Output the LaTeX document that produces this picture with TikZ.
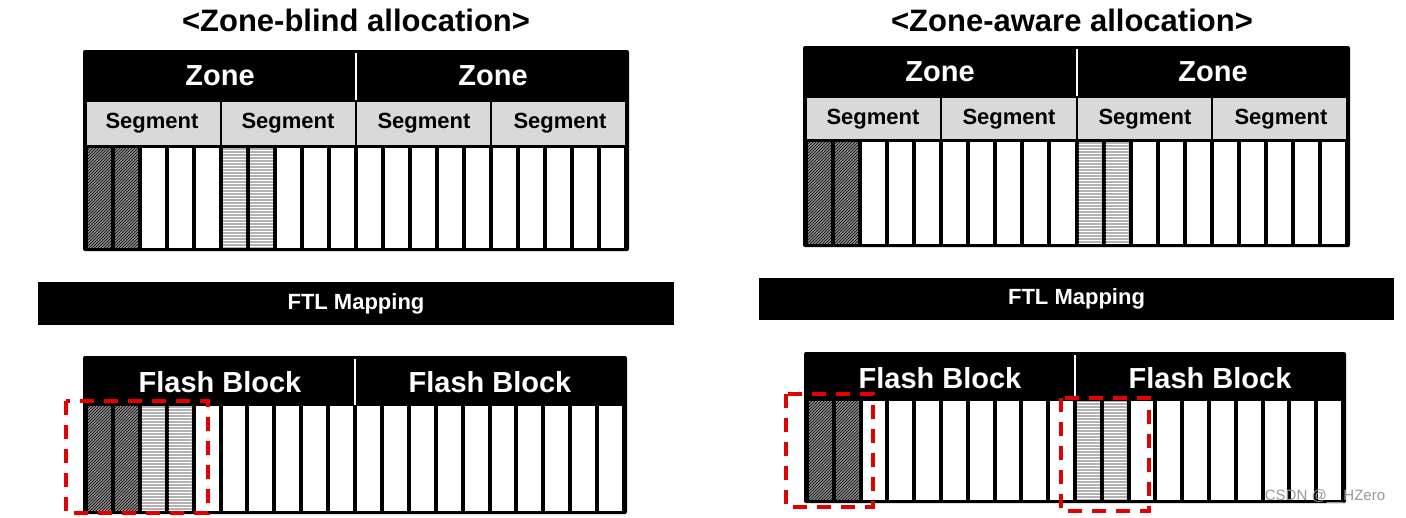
\documentclass[tikz,border=0pt]{standalone}
\usepackage{fontspec}
\setmainfont{Liberation Sans}
\usetikzlibrary{patterns}
\tikzset{
  x=1pt,y=-1pt,
  frame/.style={fill=black,rounded corners=2pt},
  seg/.style={fill=black!15},
  cellw/.style={fill=white},
  hatch/.style={fill=black!45,postaction={pattern=north east lines,pattern color=black}},
  dotc/.style={fill=black!30,postaction={pattern=horizontal lines,pattern color=white}},
  red box/.style={draw=red!90!black,line width=3.5pt,dash pattern=on 14pt off 10pt},
  hdr/.style={text=white,font=\bfseries\fontsize{29}{30}\selectfont},
  segt/.style={text=black,font=\bfseries\fontsize{22}{24}\selectfont},
  title/.style={font=\bfseries\fontsize{31}{33}\selectfont},
  bar/.style={fill=black,text=white,font=\bfseries\fontsize{22}{24}\selectfont,inner sep=0pt}
}
% #1 x0, #2 x1, #3 ytop, #4 header bottom, #5 cell top, #6 ybot, #7 has segments
\newcommand\mypanel[7]{%
  \fill[frame] (#1,#3) rectangle (#2,#6);
  \pgfmathsetmacro\cw{(#2-#1-6)/20}
  \pgfmathsetmacro\xm{(#1+#2)/2}
  \draw[white,line width=2pt] (\xm,#3+3) -- (\xm,#4);
  \ifnum#7=1
    \foreach \s in {0,...,3}{
      \fill[seg] ({#1+3+\s*5*\cw+1},#4+2) rectangle ({#1+3+(\s+1)*5*\cw-1},#5-2);
    }
  \fi
  \foreach \i in {0,...,19}{
    \fill[cellw] ({#1+3+\i*\cw+2},#5+1) rectangle ({#1+3+(\i+1)*\cw-2},#6-3);
  }
}
\newcommand\mycell[6]{% x0 x1 ctop ybot index style
  \pgfmathsetmacro\cw{(#2-#1-6)/20}
  \fill[#6] ({#1+3+#5*\cw+2},#3+1) rectangle ({#1+3+(#5+1)*\cw-2},#4-3);
}
\begin{document}
\begin{tikzpicture}
\useasboundingbox (0,0) rectangle (1406,517);
% ---------- left ----------
\node[title] (tl) at (356,20) {<Zone-blind allocation>};
\mypanel{83}{629}{50}{100}{147}{251}{1}
\foreach \i in {0,1}{\mycell{83}{629}{147}{251}{\i}{hatch}}
\foreach \i in {5,6}{\mycell{83}{629}{147}{251}{\i}{dotc}}
\node[hdr] (zl1) at (220,76) {Zone};
\node[hdr] (zl2) at (493,76) {Zone};
\foreach \s/\x in {1/152,2/288,3/424,4/560}{\node[segt] (sl\s) at (\x,123) {Segment};}
\node[bar,minimum width=636pt,minimum height=43pt] (ftll) at (356,303.5) {FTL Mapping};
\mypanel{83}{627}{356}{405}{405}{514}{0}
\foreach \i in {0,1}{\mycell{83}{627}{405}{514}{\i}{hatch}}
\foreach \i in {2,3}{\mycell{83}{627}{405}{514}{\i}{dotc}}
\node[hdr] (fl1) at (220,382) {Flash Block};
\node[hdr] (fl2) at (490,382) {Flash Block};
\draw[red box] (66,401) rectangle (208,513);
% ---------- right ----------
\node[title] (tr) at (1072,20) {<Zone-aware allocation>};
\mypanel{803}{1350}{46}{96}{141}{247}{1}
\foreach \i in {0,1}{\mycell{803}{1350}{141}{247}{\i}{hatch}}
\foreach \i in {10,11}{\mycell{803}{1350}{141}{247}{\i}{dotc}}
\node[hdr] (zr1) at (940,72) {Zone};
\node[hdr] (zr2) at (1213,72) {Zone};
\foreach \s/\x in {1/873,2/1009,3/1145,4/1281}{\node[segt] (sr\s) at (\x,119) {Segment};}
\node[bar,minimum width=635pt,minimum height=42pt] (ftlr) at (1076.5,299) {FTL Mapping};
\mypanel{804}{1346}{352}{400}{400}{503}{0}
\foreach \i in {0,1}{\mycell{804}{1346}{400}{503}{\i}{hatch}}
\foreach \i in {10,11}{\mycell{804}{1346}{400}{503}{\i}{dotc}}
\node[hdr] (fr1) at (940,378) {Flash Block};
\node[hdr] (fr2) at (1210,378) {Flash Block};
\draw[red box] (786,394) rectangle (873,507);
\draw[red box] (1061,398) rectangle (1149,511);
\node[text=black!40,font=\fontsize{15}{16}\selectfont] (wm) at (1325,497) {CSDN @\_\_HZero};
\end{tikzpicture}
\end{document}
